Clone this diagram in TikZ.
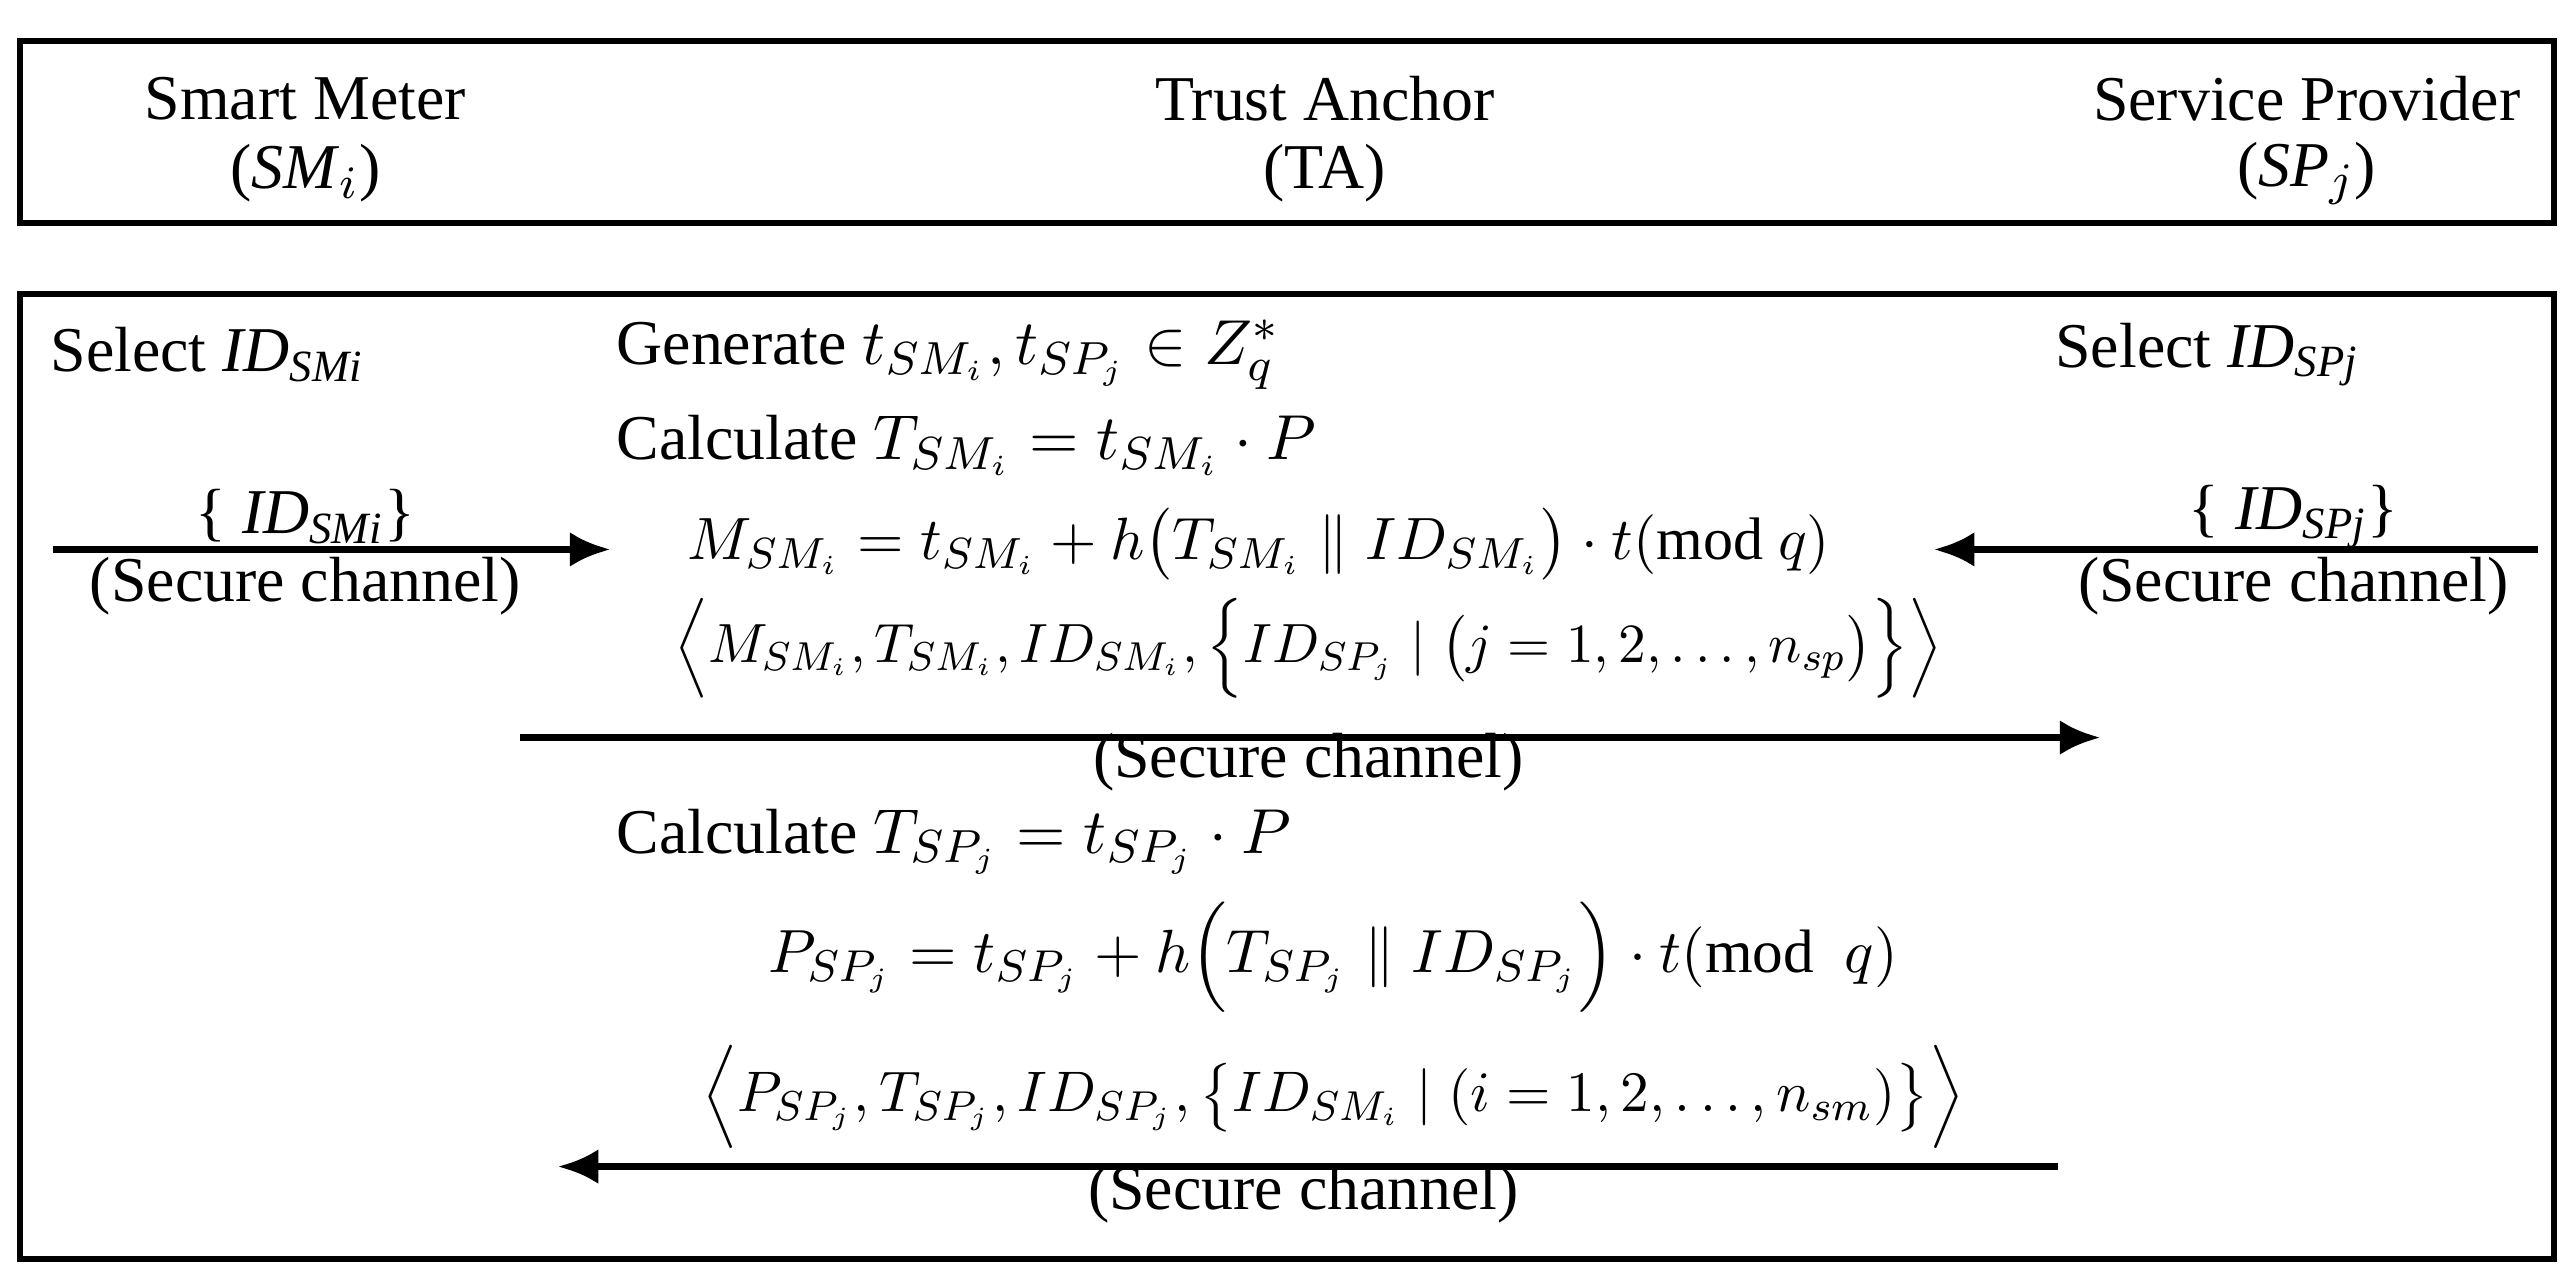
\documentclass[tikz,border=0pt]{standalone}
\usepackage{amsmath,amssymb}
\usepackage{fontspec}
\setmainfont{Liberation Serif}
\usetikzlibrary{arrows.meta}
\begin{document}
\begin{tikzpicture}[x=0.01cm,y=-0.01cm,
  txt/.style={inner sep=0pt,font=\fontsize{11}{13}\selectfont},
  lt/.style={txt,anchor=west},
  box/.style={draw,line width=1pt},
  msg/.style={line width=1.3pt,-{Latex[length=7pt,width=6pt]}}]
\useasboundingbox (0,0) rectangle (1560,775);
\draw[box] (12,25) rectangle (1548,135);
\draw[box] (12,178) rectangle (1548,763);
\node[txt] (sm) at (185,60) {Smart Meter};
\node[txt] (smi) at (185,105) {(\textit{SM}$_i$)};
\node[txt] (ta) at (803,60) {Trust Anchor};
\node[txt] (tai) at (803,105) {(TA)};
\node[txt] (sp) at (1398,60) {Service Provider};
\node[txt] (spi) at (1398,105) {(\textit{SP}$_j$)};
\node[lt] (s1) at (30,215) {Select \textit{ID}$_{\mathit{SMi}}$};
\node[lt] (g) at (373,215) {Generate $t_{SM_i}, t_{SP_j}\in Z_q^*$};
\node[lt] (c1) at (373,270) {Calculate $T_{SM_i}=t_{SM_i}\cdot P$};
\node[lt] (s2) at (1245,215) {Select \textit{ID}$_{\mathit{SPj}}$};
\node[txt] (l1) at (185,313) {\{ \textit{ID}$_{\mathit{SMi}}$\}};
\node[txt] (l1b) at (185,355) {(Secure channel)};
\coordinate (a1s) at (32,333); \coordinate (a1e) at (370,333);
\draw[msg] (a1s) -- (a1e);
\node[txt] (l2) at (1390,313) {\{ \textit{ID}$_{\mathit{SPj}}$\}};
\node[txt] (l2b) at (1390,355) {(Secure channel)};
\coordinate (a2s) at (1538,333); \coordinate (a2e) at (1172,333);
\draw[msg] (a2s) -- (a2e);
\node[txt,scale=0.94,transform shape] (m) at (763,330) {$M_{SM_i}=t_{SM_i}+h\big(T_{SM_i}\parallel ID_{SM_i}\big)\cdot t(\mathrm{mod}\ q)$};
\node[txt,scale=0.87,transform shape] (t1) at (793,393) {$\Big\langle M_{SM_i},T_{SM_i},ID_{SM_i},\Big\{ID_{SP_j}\mid\big(j=1,2,\dots,n_{sp}\big)\Big\}\Big\rangle$};
\coordinate (a3s) at (315,447); \coordinate (a3e) at (1273,447);
\draw[msg] (a3s) -- (a3e);
\node[txt] (l3) at (793,462) {(Secure channel)};
\node[lt] (c2) at (373,510) {Calculate $T_{SP_j}=t_{SP_j}\cdot P$};
\node[txt,scale=0.96,transform shape] (p) at (808,580) {$P_{SP_j}=t_{SP_j}+h\Big(T_{SP_j}\parallel ID_{SP_j}\Big)\cdot t(\mathrm{mod}\ \ q)$};
\node[txt,scale=0.9,transform shape] (t2) at (808,665) {$\Big\langle P_{SP_j},T_{SP_j},ID_{SP_j},\big\{ID_{SM_i}\mid(i=1,2,\dots,n_{sm})\big\}\Big\rangle$};
\coordinate (a4s) at (1247,707); \coordinate (a4e) at (338,707);
\draw[msg] (a4s) -- (a4e);
\node[txt] (l4) at (790,724) {(Secure channel)};
\end{tikzpicture}
\end{document}
